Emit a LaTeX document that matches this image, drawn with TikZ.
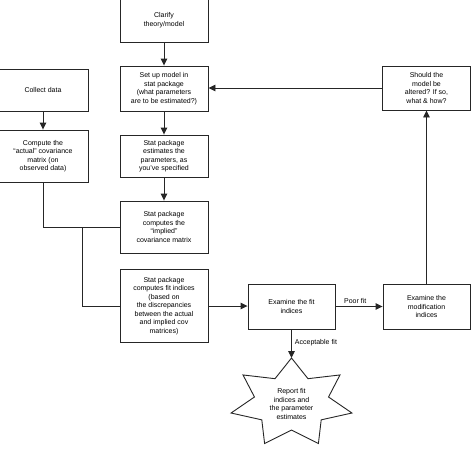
\documentclass[tikz,border=0pt]{standalone}
\usepackage{fontspec}
\setmainfont{Liberation Sans}
\usetikzlibrary{arrows.meta}
\begin{document}
\begin{tikzpicture}[x=1pt,y=-1pt,
  txt/.style={font=\fontsize{7}{8.5}\selectfont},
  box/.style={txt, draw=black!85, line width=0.9pt, fill=white, align=center, inner sep=1pt},
  conn/.style={draw=black!85, line width=0.9pt},
  arr/.style={conn, -{Triangle[width=6.5pt,length=7pt]}}]
\useasboundingbox (0,0) rectangle (474,451);
\fill[white] (0,0) rectangle (474,451);

\node[box, minimum width=88pt, minimum height=44pt] (clarify) at (164,20) {Clarify\\theory/model};
\node[box, minimum width=88pt, minimum height=45pt] (setup) at (164,88.5) {Set up model in\\stat package\\(what parameters\\are to be estimated?)};
\node[box, minimum width=88pt, minimum height=42pt] (estim) at (164,156) {Stat package\\estimates the\\parameters, as\\you’ve specified};
\node[box, minimum width=88pt, minimum height=52pt] (implied) at (164,227) {Stat package\\computes the\\“implied”\\covariance matrix};
\node[box, minimum width=88pt, minimum height=73pt] (fitidx) at (164,306) {Stat package\\computes fit indices\\(based on\\the discrepancies\\between the actual\\and implied cov\\matrices)};
\node[box, minimum width=90pt, minimum height=42pt] (collect) at (43,90) {Collect data};
\node[box, minimum width=90pt, minimum height=52pt] (actual) at (43,156) {Compute the\\“actual” covariance\\matrix (on\\observed data)};
\node[box, minimum width=87pt, minimum height=45pt] (examfit) at (291.5,306.5) {Examine the fit\\indices};
\node[box, minimum width=87pt, minimum height=45pt] (modif) at (426.5,306.5) {Examine the\\modification\\indices};
\node[box, minimum width=88pt, minimum height=44pt] (should) at (426.5,88) {Should the\\model be\\altered? If so,\\what \& how?};

% star
\draw[conn, fill=white] plot[samples at={0,...,13}, variable=\k]
  ({291.5+ifthenelse(mod(\k,2)==0,62,38)*cos(90+\k*180/7)},
   {403-ifthenelse(mod(\k,2)==0,45,27)*sin(90+\k*180/7)}) -- cycle;
\coordinate (startop) at (291.5,358);
\node[txt, align=center] (report) at (291.5,404) {Report fit\\indices and\\the parameter\\estimates};

\coordinate (j) at (82,227);

\draw[arr] (clarify) -- (setup);
\draw[arr] (setup) -- (estim);
\draw[arr] (estim) -- (implied);
\draw[arr] (collect) -- (actual);
\draw[conn] (actual.south) |- (implied.west);
\draw[conn] (j) |- (fitidx.west);
\draw[arr] (fitidx.east) -- (fitidx.east -| examfit.west);
\draw[arr] (examfit) -- node[txt, above, pos=0.42, inner sep=2pt] {Poor fit} (modif);
\draw[arr] (modif) -- (should);
\draw[arr] (should.west) -- (should.west -| setup.east);
\draw[arr] (examfit.south) -- node[txt, right, pos=0.45, inner sep=3pt] {Acceptable fit} (startop);
\end{tikzpicture}
\end{document}
